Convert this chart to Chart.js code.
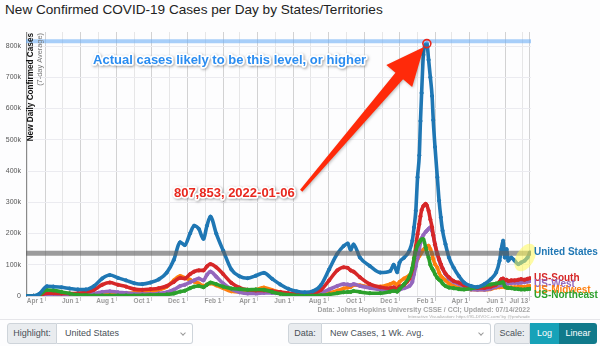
<!DOCTYPE html>
<html lang="en">
<head>
<meta charset="UTF-8">
<title>New Confirmed COVID-19 Cases per Day by States/Territories</title>
<script src="https://cdn.jsdelivr.net/npm/chart.js"></script>
<style>
    body {
        margin: 0;
        width: 600px;
        height: 346px;
        overflow: hidden;
        background: #fdfdfe;
        font-family: "Liberation Sans", Arial, sans-serif;
        position: relative;
    }
    #title {
        position: absolute; left: 5px; top: 1px;
        font-size: 13.6px; color: #222; line-height: 18px;
        white-space: nowrap;
    }
    #chart { position: absolute; left: 0; top: 0; }
    .foot { position: absolute; right: 70px; white-space: nowrap; color: #a4a4a4; }
    #foot1 { top: 305px; font-size: 6.9px; font-weight: bold; line-height: 9px; }
    #foot2 { top: 314px; font-size: 4.4px; line-height: 5px; color: #aaa; }
    #sep { position: absolute; left: 0; top: 319px; width: 600px; height: 1px; background: #e6e6ea; }
    .box {
        position: absolute; top: 323px; height: 21px; box-sizing: border-box;
        border: 1px solid #ced4da; font-size: 9px; color: #495057;
        line-height: 19px; white-space: nowrap;
    }
    .lbl { background: #e9ecef; text-align: center; border-radius: 3px 0 0 3px; }
    .sel { background: #fff; padding-left: 8px; border-left: none; border-radius: 0 3px 3px 0; }
    .sel i {
        position: absolute; right: 7px; top: 7px; width: 3px; height: 3px;
        border-right: 1px solid #999; border-bottom: 1px solid #999; transform: rotate(45deg);
    }
    .btn { color: #fff; text-align: center; border: none; line-height: 21px; }
</style>
</head>
<body>
<div id="title">New Confirmed COVID-19 Cases per Day by States/Territories</div>
<canvas id="chart" width="600" height="306"></canvas>
<div class="foot" id="foot1">Data: Johns Hopkins University CSSE / CCI; Updated: 07/14/2022</div>
<div class="foot" id="foot2">Interactive Visualization: https://91-DIVOC.com/ by @profwade</div>
<div id="sep"></div>

<div class="box lbl" style="left:7px;width:50px;">Highlight:</div>
<div class="box sel" style="left:57px;width:136px;">United States<i></i></div>
<div class="box lbl" style="left:288px;width:34px;">Data:</div>
<div class="box sel" style="left:322px;width:169px;">New Cases, 1 Wk. Avg.<i></i></div>
<div class="box lbl" style="left:494px;width:36px;">Scale:</div>
<div class="box btn" style="left:530px;width:29px;background:#17a2b8;">Log</div>
<div class="box btn" style="left:559px;width:38px;background:#117a8b;border-radius:0 3px 3px 0;">Linear</div>

<script>
// 7-day average of new cases, in thousands
const dates = [
    '2020-02-28','2020-03-12','2020-03-22','2020-04-04','2020-04-15','2020-04-29','2020-05-13','2020-05-27',
    '2020-06-10','2020-06-24','2020-07-08','2020-07-21','2020-08-04','2020-08-18','2020-09-01','2020-09-15',
    '2020-09-29','2020-10-13','2020-10-27','2020-11-08','2020-11-19','2020-11-27','2020-12-06','2020-12-13',
    '2020-12-21','2020-12-29','2021-01-04','2021-01-10','2021-01-20','2021-02-01','2021-02-15','2021-03-01',
    '2021-03-15','2021-03-29','2021-04-12','2021-04-26','2021-05-10','2021-05-24','2021-06-07','2021-06-21',
    '2021-07-05','2021-07-19','2021-08-02','2021-08-16','2021-08-27','2021-09-03','2021-09-08','2021-09-13',
    '2021-09-24','2021-10-11','2021-10-29','2021-11-15','2021-11-21','2021-11-27','2021-12-01','2021-12-09',
    '2021-12-18','2021-12-23','2021-12-26','2021-12-29','2022-01-01','2022-01-04','2022-01-06','2022-01-08',
    '2022-01-11','2022-01-15','2022-01-17','2022-01-20','2022-01-23','2022-01-26','2022-01-28','2022-01-31',
    '2022-02-04','2022-02-07','2022-02-10','2022-02-13','2022-02-18','2022-02-24','2022-03-04','2022-03-13',
    '2022-03-22','2022-04-03','2022-04-14','2022-04-26','2022-05-07','2022-05-16','2022-05-22','2022-05-25',
    '2022-05-28','2022-05-31','2022-06-03','2022-06-06','2022-06-11','2022-06-17','2022-06-23','2022-06-28',
    '2022-07-04','2022-07-09','2022-07-13'
];
const usCases = [
    0, 0.5, 7, 31, 30, 28, 24, 21,
    21, 32, 56, 67, 58, 50, 41, 38,
    43, 53, 75, 115, 172, 163, 200, 225,
    215, 183, 225, 254, 200, 145, 85, 63,
    57, 65, 74, 55, 37, 23, 15, 12,
    15, 35, 85, 135, 160, 168, 148, 165,
    123, 96, 75, 80, 100, 76, 107, 123,
    145, 177, 220, 273, 380, 450, 560, 650,
    772, 806, 807.853, 756, 700, 640, 563, 477,
    380, 305, 252, 209, 166, 123, 91, 64,
    43, 32, 29, 38, 54, 75, 113, 150,
    177, 123, 150, 113, 123, 113, 102, 107,
    113, 123, 139
];
const southCases = [
    0, 0.1, 2, 9, 9, 8, 8, 9,
    12, 20, 36, 43, 36, 30, 22, 20,
    22, 25, 32, 45, 58, 56, 70, 78,
    82, 82, 95, 102, 92, 70, 42, 27,
    20, 18, 18, 16, 13, 9, 6, 5,
    7, 20, 50, 82, 92, 90, 82, 78,
    60, 38, 28, 25, 28, 22, 30, 36,
    55, 85, 120, 160, 198, 230, 255, 275,
    288, 295, 290, 273, 245, 220, 195, 165,
    135, 118, 102, 88, 72, 60, 48, 43,
    34, 29, 26, 26, 30, 36, 46, 54,
    56, 50, 52, 48, 50, 50, 52, 54,
    52, 55, 57
];
const westCases = [
    0, 0.2, 1.5, 4, 4, 4, 4, 5,
    5, 8, 13, 15, 12, 10, 7, 6,
    6, 8, 12, 20, 32, 36, 44, 50,
    56, 50, 68, 78, 62, 40, 22, 12,
    8, 8, 10, 10, 9, 7, 5, 4,
    5, 10, 21, 32, 38, 37, 35, 38,
    32, 26, 20, 18, 20, 15, 20, 25,
    32, 45, 70, 95, 123, 150, 170, 185,
    195, 205, 209, 215, 220, 208, 195, 165,
    134, 115, 100, 88, 70, 55, 45, 38,
    30, 21, 20, 20, 24, 30, 34, 35,
    36, 38, 40, 40, 41, 42, 42, 43,
    44, 46, 48
];
const midwestCases = [
    0, 0.1, 1, 5, 6, 7, 7, 6,
    4, 4, 7, 9, 9, 9, 10, 11,
    13, 19, 30, 50, 64, 58, 52, 46,
    40, 33, 36, 40, 34, 25, 15, 13,
    13, 20, 27, 19, 12, 6, 3, 2,
    2, 4, 10, 17, 24, 27, 29, 35,
    34, 30, 30, 38, 43, 36, 45, 56,
    66, 78, 91, 105, 118, 128, 134, 140,
    148, 155, 158, 161, 150, 134, 118, 102,
    91, 75, 64, 58, 50, 40, 32, 26,
    23, 21, 20, 20, 22, 27, 28, 29,
    30, 28, 27, 27, 28, 28, 29, 30,
    29, 31, 32
];
const northeastCases = [
    0, 0.2, 4, 19, 18, 13, 8, 4,
    2.5, 1.5, 1.5, 1.5, 1.5, 1.5, 1.5, 2,
    3, 4, 5, 8, 14, 17, 25, 30,
    32, 28, 36, 43, 38, 30, 24, 22,
    20, 21, 20, 13, 7, 3.5, 1.5, 1,
    1, 2, 5, 9, 12, 13, 13, 16,
    13, 9, 9, 14, 16, 14, 22, 38,
    62, 90, 120, 145, 162, 172, 178, 181,
    182, 155, 140, 123, 100, 88, 82, 70,
    58, 52, 48, 40, 32, 27, 25, 22,
    21, 24, 28, 34, 37, 40, 42, 43,
    44, 30, 27, 26, 25, 23, 22, 21,
    21, 22, 23
];

const seriesNames = ['United States', 'US-Northeast', 'US-South', 'US-West', 'US-Midwest'];
const seriesValues = [usCases, northeastCases, southCases, westCases, midwestCases];
const seriesColors = ['#1f77b4', '#2ca02c', '#d62728', '#9467bd', '#ff7f0e'];

const xTickDates = ['2020-04-01','2020-06-01','2020-08-01','2020-10-01','2020-12-01','2021-02-01','2021-04-01',
    '2021-06-01','2021-08-01','2021-10-01','2021-12-01','2022-02-01','2022-04-01','2022-06-01','2022-07-13'];
const xTickLabels = ['Apr 1','Jun 1','Aug 1','Oct 1','Dec 1','Feb 1','Apr 1',
    'Jun 1','Aug 1','Oct 1','Dec 1','Feb 1','Apr 1','Jun 1','Jul 13'];
const yTicks = [0, 100, 200, 300, 400, 500, 600, 700, 800];

// reference levels and notes (thousands)
const likelyLevel = 815;
const currentLevel = 137;
const peakText = '807,853, 2022-01-06';
const noteText = 'Actual cases likely to be this level, or higher';
const noteAt = ['2021-02-12', 753];
const peakTextAt = ['2021-02-20', 329];
const arrowTailAt = ['2021-06-15', 337];
const highlightAt = ['2022-07-05', 123];

const dayNum = s => Date.UTC(+s.slice(0, 4), +s.slice(5, 7) - 1, +s.slice(8, 10)) / 86400000;

const labelByDay = {};
xTickDates.forEach((d, i) => labelByDay[dayNum(d)] = xTickLabels[i]);

// monthly grid lines
const gridDays = [];
for (let yr = 2020; yr <= 2022; yr++) {
    for (let m = 0; m < 12; m++) {
        const d = Date.UTC(yr, m, 1) / 86400000;
        if (d >= dayNum('2020-03-01') && d <= dayNum('2022-07-01')) gridDays.push(d);
    }
}
gridDays.push(dayNum('2022-07-13'));

const FONT = '"Liberation Sans", Arial, sans-serif';

const overlay = {
    id: 'overlay',
    afterDatasetsDraw(chart) {
        const { ctx, chartArea: a, scales: { x, y } } = chart;
        const px = p => [x.getPixelForValue(dayNum(p[0])), y.getPixelForValue(p[1])];
        ctx.save();

        const hline = (v, color, w) => {
            const py = y.getPixelForValue(v);
            ctx.strokeStyle = color;
            ctx.lineWidth = w;
            ctx.beginPath();
            ctx.moveTo(a.left, py);
            ctx.lineTo(a.right, py);
            ctx.stroke();
        };
        hline(likelyLevel, 'rgba(110,175,245,0.6)', 4);
        hline(currentLevel, 'rgba(95,95,95,0.62)', 5);

        // yellow highlight on the latest weeks
        const [hx, hy] = px(highlightAt);
        ctx.fillStyle = 'rgba(255,250,90,0.55)';
        ctx.beginPath();
        ctx.ellipse(hx, hy, 15, 9, -Math.PI / 3, 0, Math.PI * 2);
        ctx.fill();

        // peak marker
        let pi = 0;
        usCases.forEach((v, i) => { if (v > usCases[pi]) pi = i; });
        const P = [x.getPixelForValue(dayNum(dates[pi])), y.getPixelForValue(usCases[pi])];
        ctx.strokeStyle = '#e8281e';
        ctx.lineWidth = 1.6;
        ctx.beginPath();
        ctx.arc(P[0], P[1], 4, 0, Math.PI * 2);
        ctx.stroke();

        // arrow
        const T = px(arrowTailAt);
        let dx = P[0] - T[0], dy = P[1] - T[1];
        const len = Math.hypot(dx, dy);
        dx /= len; dy /= len;
        const nx = -dy, ny = dx;
        const tip = [P[0] - dx * 4.5, P[1] - dy * 4.5];
        const base = [tip[0] - dx * 38, tip[1] - dy * 38];
        const pt = (o, k) => [o[0] + nx * k, o[1] + ny * k];
        const poly = [pt(T, 1.5), pt(base, 5), pt(base, 17), tip, pt(base, -17), pt(base, -5), pt(T, -1.5)];
        ctx.shadowColor = 'rgba(0,0,0,0.25)';
        ctx.shadowBlur = 3;
        ctx.shadowOffsetX = 1;
        ctx.shadowOffsetY = 1;
        ctx.fillStyle = '#ff2a0a';
        ctx.beginPath();
        poly.forEach((p, i) => i ? ctx.lineTo(p[0], p[1]) : ctx.moveTo(p[0], p[1]));
        ctx.closePath();
        ctx.fill();

        // outlined notes
        const note = (text, at, color) => {
            const [tx, ty] = px(at);
            ctx.font = 'bold 13px ' + FONT;
            ctx.textAlign = 'center';
            ctx.textBaseline = 'middle';
            ctx.shadowColor = 'rgba(0,0,0,0.35)';
            ctx.shadowBlur = 3;
            ctx.shadowOffsetX = 1;
            ctx.shadowOffsetY = 1;
            ctx.strokeStyle = '#fff';
            ctx.lineWidth = 3.5;
            ctx.lineJoin = 'round';
            ctx.strokeText(text, tx, ty);
            ctx.shadowColor = 'transparent';
            ctx.fillStyle = color;
            ctx.fillText(text, tx, ty);
        };
        note(noteText, noteAt, '#2a8cf0');
        note(peakText, peakTextAt, '#e8281e');
        ctx.shadowColor = 'transparent';

        // series labels at the right, pushed down to avoid overlap
        const ends = seriesNames.map((n, i) => ({
            n, c: seriesColors[i], y: y.getPixelForValue(seriesValues[i][seriesValues[i].length - 1])
        })).sort((p, q) => p.y - q.y);
        for (let i = 1; i < ends.length; i++) {
            if (ends[i].y - ends[i - 1].y < 5.8 && i > 1) ends[i].y = ends[i - 1].y + 5.8;
        }
        ctx.font = 'bold 10px ' + FONT;
        ctx.textAlign = 'left';
        ctx.textBaseline = 'middle';
        ends.forEach(e => { ctx.fillStyle = e.c; ctx.fillText(e.n, a.right + 3, e.y); });

        // y axis title
        ctx.translate(a.left + 4.5, a.top + 1);
        ctx.rotate(-Math.PI / 2);
        ctx.textAlign = 'right';
        ctx.font = 'bold 8.2px ' + FONT;
        ctx.fillStyle = '#111';
        ctx.fillText('New Daily Confirmed Cases', 0, 0);
        ctx.font = '7.4px ' + FONT;
        ctx.fillStyle = '#777';
        ctx.fillText('(7-day Average)', 0, 9);
        ctx.restore();
    }
};

new Chart(document.getElementById('chart'), {
    type: 'line',
    data: {
        datasets: seriesNames.map((name, i) => ({
            label: name,
            data: dates.map((d, k) => ({ x: dayNum(d), y: seriesValues[i][k] })),
            borderColor: seriesColors[i],
            backgroundColor: seriesColors[i],
            borderWidth: 3.6,
            pointRadius: 1.6,
            pointBorderWidth: 1,
            cubicInterpolationMode: 'monotone'
        }))
    },
    options: {
        responsive: false,
        animation: false,
        layout: { padding: { top: 32, right: 69, left: 0, bottom: 0 } },
        plugins: { legend: { display: false }, tooltip: { enabled: false } },
        scales: {
            x: {
                type: 'linear',
                min: dayNum('2020-02-28'),
                max: dayNum('2022-07-15'),
                afterBuildTicks: s => { s.ticks = gridDays.map(v => ({ value: v })); },
                afterFit: s => { s.height = 10; },
                ticks: {
                    autoSkip: false,
                    maxRotation: 0,
                    align: 'end',
                    padding: -4,
                    color: '#9a9a9a',
                    font: { size: 6.5, weight: 'bold', family: FONT },
                    callback: v => labelByDay[v] ? labelByDay[v] + ' ' : ''
                },
                grid: {
                    color: c => c.tick && labelByDay[c.tick.value] ? 'rgba(0,0,0,0.17)' : 'rgba(0,0,0,0.09)',
                    tickColor: c => c.tick && labelByDay[c.tick.value] ? 'rgba(0,0,0,0.2)' : 'transparent',
                    tickLength: 5
                },
                border: { color: '#d6d6de' }
            },
            y: {
                min: 0,
                max: 845,
                afterBuildTicks: s => { s.ticks = yTicks.map(v => ({ value: v })); },
                afterFit: s => { s.width = 26; },
                ticks: {
                    padding: 5,
                    color: '#555',
                    font: { size: 7, family: FONT },
                    callback: v => v === 0 ? '0' : v + 'k'
                },
                grid: { color: '#ebebf0', drawTicks: false },
                border: { color: '#8a8a8a' }
            }
        }
    },
    plugins: [overlay]
});
</script>
</body>
</html>
